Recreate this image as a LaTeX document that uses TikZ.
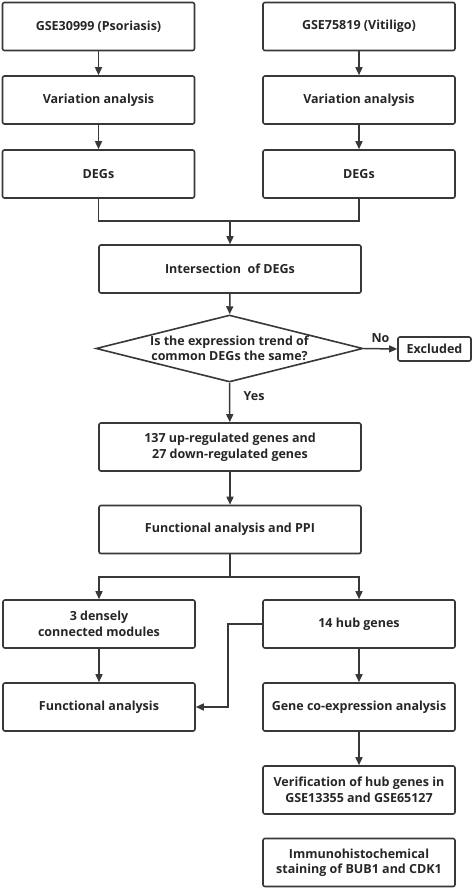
\documentclass[tikz,border=0pt]{standalone}
\usepackage{fontspec}
\setmainfont{Open Sans}
\usepackage{tikz}
\usetikzlibrary{positioning, arrows.meta, shapes.geometric}
\usepackage{xcolor}
\definecolor{linegray}{HTML}{383838}
\definecolor{textgray}{HTML}{262626}

\begin{document}
\begin{tikzpicture}[x=1pt, y=-1pt,
    box/.style={draw=linegray, line width=1.6pt, rounded corners=2pt, fill=white,
        minimum width=192pt, minimum height=48pt, inner sep=2pt, align=center,
        text=textgray, font=\fontsize{12.5}{15.5}\selectfont\bfseries},
    widebox/.style={box, minimum width=262pt},
    decision/.style={draw=linegray, line width=1.6pt, diamond, aspect=4,
        minimum width=267pt, minimum height=67pt, inner sep=-8pt, align=center,
        text=textgray, font=\fontsize{12.5}{15.5}\selectfont\bfseries},
    link/.style={draw=linegray, line width=1.5pt},
    arrow/.style={link, -{Triangle[length=8pt, width=7pt]}},
    tag/.style={text=textgray, font=\fontsize{12.5}{14}\selectfont\bfseries}]
    \useasboundingbox (0,0) rectangle (474,889);

    % Two datasets
    \node[box] (gseA) at (98.5,26.5) {GSE30999 (Psoriasis)};
    \node[box] (gseB) at (359,26.5) {GSE75819 (Vitiligo)};
    \node[box] (varA) at (98.5,100) {Variation analysis};
    \node[box] (varB) at (359,100) {Variation analysis};
    \node[box] (degA) at (98.5,174) {DEGs};
    \node[box] (degB) at (359,174) {DEGs};

    \draw[arrow] (gseA) -- (varA);
    \draw[arrow] (varA) -- (degA);
    \draw[arrow] (gseB) -- (varB);
    \draw[arrow] (varB) -- (degB);

    % Merge
    \coordinate (join) at (230,221);
    \node[widebox] (inter) at (230,269) {Intersection\ \ of DEGs};
    \draw[link] (degA) |- (join) -| (degB);
    \draw[arrow] (join) -- (inter);

    % Decision
    \node[decision] (trend) at (229.5,348.5) {Is the expression trend of\\common DEGs the same?};
    \node[box, minimum width=73pt, minimum height=24pt] (excl) at (434.5,349) {Excluded};
    \draw[arrow] (inter) -- (trend);
    \draw[arrow] (trend.east) -- (excl.west)
        node[midway, above, tag, yshift=2pt] (no) {No};

    \node[widebox] (updown) at (230,447) {137 up-regulated genes and\\27 down-regulated genes};
    \draw[arrow] (trend.south) -- (updown)
        node[pos=0.35, right, tag, xshift=10pt] (yes) {Yes};

    \node[widebox] (fppi) at (230,529.5) {Functional analysis and PPI};
    \draw[arrow] (updown) -- (fppi);

    % Split
    \coordinate (split) at (230,577);
    \node[box] (dense) at (99,624) {3 densely\\connected modules};
    \node[box] (hub) at (359,624) {14 hub genes};
    \draw[link] (fppi) -- (split);
    \draw[arrow] (split) -| (dense);
    \draw[arrow] (split) -| (hub);

    % Lower rows
    \node[box] (funcA) at (99,707) {Functional analysis};
    \node[box] (coexp) at (359,707) {Gene co-expression analysis};
    \node[box] (verif) at (359,790) {Verification of hub genes in\\GSE13355 and GSE65127};
    \node[box] (immuno) at (359,862.5) {Immunohistochemical\\staining of BUB1 and CDK1};

    \draw[arrow] (dense) -- (funcA);
    \draw[arrow] (hub.west) -- ++(-34,0) |- (funcA.east);
    \draw[arrow] (hub) -- (coexp);
    \draw[arrow] (coexp) -- (verif);

\end{tikzpicture}
\end{document}
